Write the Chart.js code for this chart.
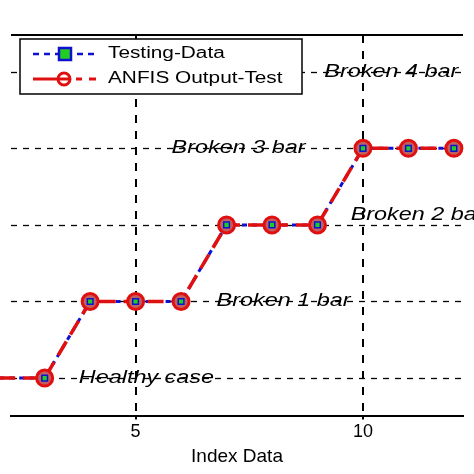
<!DOCTYPE html>
<html>
<head>
<meta charset="utf-8">
<script src="https://cdn.jsdelivr.net/npm/chart.js@4"></script>
<style>
  html, body { margin: 0; padding: 0; background: #fff; }
</style>
</head>
<body>
<canvas id="chart" width="474" height="474"></canvas>
<script>
// Data
const indexData = [1, 2, 3, 4, 5, 6, 7, 8, 9, 10, 11, 12];
const testingData = [0, 0, 0, 1, 1, 1, 2, 2, 2, 3, 3, 3];
const anfisOutput = [0, 0, 0, 1, 1, 1, 2, 2, 2, 3, 3, 3];
const xTicks = [5, 10];
const yGrid = [0, 1, 2, 3, 4];

// Class labels placed in data coordinates
const classLabels = [
  { text: 'Healthy case', x: 3.75, y: 0 },
  { text: 'Broken 1 bar', x: 6.78, y: 1 },
  { text: 'Broken 2 bar', x: 9.73, y: 2.13 },
  { text: 'Broken 3 bar', x: 5.79, y: 3 },
  { text: 'Broken 4 bar', x: 9.15, y: 4 }
];

const pts = arr => arr.map((v, i) => ({ x: indexData[i], y: v }));

// text drawn a little wider than tall, like the reference
function wideText(ctx, text, x, y, sx) {
  ctx.save();
  ctx.translate(x, y);
  ctx.scale(sx, 1);
  ctx.fillText(text, 0, 0);
  ctx.restore();
}

// dashed grid drawn under the data
const dashGrid = {
  id: 'dashGrid',
  beforeDatasetsDraw(chart) {
    const { ctx, chartArea, scales } = chart;
    ctx.save();
    ctx.strokeStyle = '#000';
    ctx.lineWidth = 1.3;
    ctx.setLineDash([6, 6]);
    yGrid.forEach(v => {
      const y = Math.round(scales.y.getPixelForValue(v)) + 0.5;
      ctx.beginPath();
      ctx.moveTo(chartArea.left, y);
      ctx.lineTo(chartArea.right, y);
      ctx.stroke();
    });
    ctx.lineWidth = 2;
    ctx.setLineDash([8, 8]);
    xTicks.forEach(v => {
      const x = Math.round(scales.x.getPixelForValue(v));
      ctx.beginPath();
      ctx.moveTo(x, chartArea.top);
      ctx.lineTo(x, chartArea.bottom);
      ctx.stroke();
    });
    ctx.restore();
  }
};

// Text labels, top border and legend box
const overlay = {
  id: 'overlay',
  afterDatasetsDraw(chart) {
    const { ctx, chartArea, scales } = chart;
    ctx.save();
    ctx.fillStyle = '#000';
    ctx.font = 'italic 18px Arial, "Liberation Sans"';
    ctx.textBaseline = 'middle';
    classLabels.forEach(l => {
      wideText(ctx, l.text, scales.x.getPixelForValue(l.x), scales.y.getPixelForValue(l.y), 1.3);
    });

    // top border
    ctx.strokeStyle = '#000';
    ctx.lineWidth = 2;
    ctx.beginPath();
    ctx.moveTo(chartArea.left, chartArea.top);
    ctx.lineTo(chartArea.right, chartArea.top);
    ctx.stroke();

    // legend
    const bx = 20, by = 39, bw = 282, bh = 55;
    ctx.fillStyle = '#fff';
    ctx.fillRect(bx, by, bw, bh);
    ctx.lineWidth = 1.5;
    ctx.strokeRect(bx, by, bw, bh);

    ctx.font = '16px Arial, "Liberation Sans"';
    ctx.fillStyle = '#000';
    wideText(ctx, 'Testing-Data', 108, 54, 1.3);
    wideText(ctx, 'ANFIS Output-Test', 108, 79, 1.3);

    ctx.strokeStyle = '#1010d0';
    ctx.lineWidth = 2.5;
    ctx.setLineDash([6, 5]);
    ctx.beginPath();
    ctx.moveTo(33, 54); ctx.lineTo(96, 54);
    ctx.stroke();
    ctx.setLineDash([]);
    ctx.fillStyle = '#22cc22';
    ctx.fillRect(59, 48, 12, 12);
    ctx.strokeStyle = '#1010d0';
    ctx.strokeRect(59, 48, 12, 12);

    ctx.strokeStyle = '#e01010';
    ctx.lineWidth = 3;
    ctx.beginPath();
    ctx.moveTo(33, 79); ctx.lineTo(60, 79);
    ctx.moveTo(76, 79); ctx.lineTo(82, 79);
    ctx.moveTo(89, 79); ctx.lineTo(96, 79);
    ctx.stroke();
    ctx.beginPath();
    ctx.arc(64, 79, 6, 0, Math.PI * 2);
    ctx.fillStyle = '#fff';
    ctx.fill();
    ctx.stroke();
    ctx.beginPath();
    ctx.moveTo(58, 79); ctx.lineTo(70, 79);
    ctx.stroke();
    ctx.restore();
  }
};

new Chart(document.getElementById('chart'), {
  type: 'scatter',
  data: {
    datasets: [
      {
        label: 'Testing-Data line',
        data: pts(testingData),
        showLine: true,
        borderColor: '#1010d0',
        borderWidth: 3,
        borderDash: [5, 5],
        pointRadius: 0,
        order: 3
      },
      {
        label: 'ANFIS Output-Test',
        data: pts(anfisOutput),
        showLine: true,
        borderColor: '#e01010',
        borderWidth: 3.5,
        borderDash: [16, 8],
        pointRadius: 8,
        pointBorderWidth: 3,
        pointBorderColor: '#e01010',
        pointBackgroundColor: '#c06060',
        order: 2
      },
      {
        label: 'Testing-Data',
        data: pts(testingData),
        showLine: false,
        pointStyle: 'rect',
        pointRadius: 4,
        pointBorderWidth: 1.5,
        pointBorderColor: '#1010d0',
        pointBackgroundColor: '#22cc22',
        order: 1
      }
    ]
  },
  options: {
    responsive: false,
    animation: false,
    clip: false,
    layout: { padding: { top: 35, left: 0, right: 0, bottom: 2 } },
    plugins: { legend: { display: false }, tooltip: { enabled: false } },
    scales: {
      x: {
        type: 'linear',
        min: 2.26,
        max: 12.2,
        afterBuildTicks: axis => { axis.ticks = xTicks.map(v => ({ value: v })); },
        grid: { drawOnChartArea: false, color: '#000', lineWidth: 2, tickLength: 4 },
        border: { display: true, color: '#000', width: 2 },
        ticks: { color: '#000', font: { family: 'Arial, "Liberation Sans"', size: 18 }, padding: 2 },
        title: { display: true, text: 'Index Data', color: '#000', font: { family: 'Arial, "Liberation Sans"', size: 19 }, padding: { top: 0 } }
      },
      y: {
        display: false,
        min: -0.49,
        max: 4.48
      }
    }
  },
  plugins: [dashGrid, overlay]
});
</script>
</body>
</html>
